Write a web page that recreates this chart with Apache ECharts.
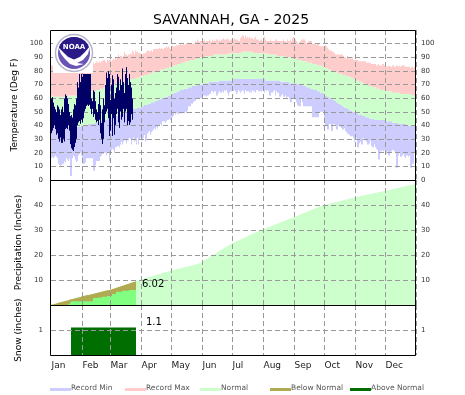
<!DOCTYPE html>
<html lang="en">
<head>
    <meta charset="UTF-8">
    <title>SAVANNAH, GA - 2025</title>
    <script src="https://cdnjs.cloudflare.com/ajax/libs/echarts/6.0.0/echarts.min.js"></script>
    <style>
        html, body {margin: 0; padding: 0; background: #fff;}
    </style>
</head>
<body>
<div id="chart" style="width: 465px;height:395px;"></div>
<script type="text/javascript">
    var months = ['Jan', 'Feb', 'Mar', 'Apr', 'May', 'Jun', 'Jul', 'Aug', 'Sep', 'Oct', 'Nov', 'Dec'];
    var monthStarts = [0, 31, 59, 90, 120, 151, 181, 212, 243, 273, 304, 334];

    // daily climate values, deg F
    var recordMin = [
        16,17,16,17,18,17,16,12,11,10, 11,12,12,14,13,16,15,14,16,3,
        3,16,18,17,15,13,14,18,19,20, 18,12,12,12,13,16,16,16,16,16,
        16,16,7,7,11,14,14,14,14,17, 18,19,19,20,20,18,20,20,14,22,
        22,23,22,20,24,24,25,25,24,26, 28,26,28,30,29,27,29,29,31,30,
        26,30,31,28,29,26,31,26,30,31, 30,29,31,33,28,29,34,35,36,33,
        35,36,37,38,37,39,38,40,40,41, 40,43,43,43,42,43,44,44,45,44,
        44,46,47,49,48,49,49,48,49,49, 49,49,50,49,50,49,51,54,54,54,
        56,56,57,58,58,60,60,59,60,60, 60,61,62,62,62,61,62,62,63,63,
        65,65,64,65,65,62,62,64,65,64, 64,65,64,66,65,66,64,62,64,65,
        65,66,65,66,65,63,64,66,65,64, 65,66,65,63,66,65,65,65,64,65,
        64,66,65,65,64,66,66,65,65,65, 65,66,65,64,66,65,66,65,62,62,
        64,64,65,66,62,65,64,64,61,61, 62,63,61,61,62,60,61,61,59,57,
        57,60,60,59,59,57,55,54,54,54, 60,57,54,54,54,54,54,54,54,54,
        54,46,46,46,46,46,46,46,50,50, 50,50,50,43,40,40,37,37,41,41,
        36,36,41,41,40,37,37,40,40,39, 38,37,37,38,36,35,34,34,33,32,
        32,32,31,28,30,31,24,24,27,28, 26,26,31,30,29,28,26,26,27,29,
        25,24,24,26,24,23,22,15,15,21, 21,22,21,22,20,19,21,18,18,20,
        21,22,22,21,20,9,9,18,20,17, 17,18,19,17,16,18,18,17,18,9,
        9,12,12,20,21
    ];
    var recordMax = [
        84,84,83,81,80,82,83,80,80,81, 82,83,83,82,80,81,83,84,84,83,
        82,81,83,83,84,84,83,84,84,85, 85,85,85,85,84,84,84,84,85,85,
        85,85,86,85,86,87,86,86,87,86, 87,87,88,88,87,86,88,87,88,90,
        87,88,89,88,90,89,90,92,90,91, 91,90,91,94,92,92,91,92,92,93,
        92,95,94,92,95,94,94,93,93,93, 92,92,93,93,93,94,95,95,94,95,
        95,94,96,96,96,96,96,96,97,96, 97,96,96,97,97,98,97,98,97,96,
        97,98,98,98,98,99,98,99,99,100, 99,99,100,99,100,100,100,100,100,100,
        100,100,100,100,102,101,103,102,101,102, 102,101,102,103,101,102,102,102,103,102,
        101,103,102,103,102,103,103,102,103,102, 103,103,104,103,103,103,104,103,102,103,
        103,103,103,104,103,103,103,102,102,104, 105,106,106,104,106,104,105,104,105,104,
        104,104,103,104,105,103,103,103,102,103, 103,102,102,105,103,102,102,102,102,103,
        102,102,102,102,103,103,102,102,102,102, 102,102,103,102,102,101,103,102,102,103,
        102,104,105,103,103,102,101,100,101,102, 103,103,103,103,102,100,100,102,102,102,
        102,100,100,100,100,99,100,100,98,98, 98,98,98,98,99,98,97,96,95,95,
        95,94,94,93,92,92,92,92,92,92, 92,92,91,90,90,89,91,90,89,90,
        89,90,88,88,88,88,88,87,87,87, 87,87,87,87,87,86,86,86,86,86,
        85,85,85,85,85,84,84,85,84,84, 84,85,85,84,83,83,83,84,84,83,
        83,84,84,83,83,84,84,83,84,83, 84,84,84,84,83,83,83,83,83,82,
        83,83,82,83,84
    ];
    var normalHigh = [
        62,62,61,61,61,61,61,61,61,61, 61,61,61,61,61,61,61,62,62,62,
        62,62,62,62,62,62,62,62,63,63, 63,63,63,63,64,64,64,64,64,64,
        65,65,65,65,65,66,66,66,66,67, 67,67,67,68,68,68,68,69,69,69,
        69,70,70,70,70,71,71,71,71,71, 72,72,72,72,72,73,73,73,73,74,
        74,74,74,74,75,75,75,75,75,76, 76,76,76,77,77,77,77,78,78,78,
        78,79,79,79,79,80,80,80,80,81, 81,81,81,81,82,82,82,82,83,83,
        83,83,84,84,84,84,85,85,85,85, 86,86,86,86,87,87,87,87,87,88,
        88,88,88,88,89,89,89,89,90,90, 90,90,90,90,91,91,91,91,91,91,
        91,91,92,92,92,92,92,92,92,92, 92,92,92,92,92,92,92,93,93,93,
        93,93,93,93,93,93,93,93,93,93, 94,94,94,94,94,94,94,94,94,94,
        94,94,93,93,93,93,93,93,93,93, 93,93,93,93,93,93,93,92,92,92,
        92,92,92,92,92,92,91,91,91,91, 91,91,91,91,90,90,90,90,90,90,
        90,89,89,89,89,89,88,88,88,88, 88,87,87,87,87,87,86,86,86,86,
        86,85,85,85,85,85,84,84,84,84, 84,83,83,83,82,82,82,81,81,81,
        80,80,80,79,79,79,79,78,78,78, 78,77,77,77,77,76,76,76,76,75,
        75,75,74,74,74,73,73,73,72,72, 72,71,71,71,70,70,70,69,69,69,
        69,68,68,68,68,67,67,67,67,66, 66,66,66,66,65,65,65,65,65,65,
        65,64,64,64,64,64,64,64,64,63, 63,63,63,63,63,63,63,63,63,63,
        63,62,62,62,62
    ];
    var normalLow = [
        41,41,41,41,40,40,40,40,40,40, 40,40,40,40,40,40,39,39,39,39,
        39,39,39,39,39,39,39,39,39,39, 40,40,40,40,40,40,40,41,41,41,
        41,41,41,41,42,42,42,42,43,43, 43,43,44,44,44,44,45,45,45,45,
        46,46,46,46,47,47,47,48,48,48, 48,49,49,49,50,50,50,50,51,51,
        51,51,52,52,52,52,53,53,53,53, 54,54,54,55,55,55,55,56,56,56,
        57,57,57,57,58,58,58,59,59,59, 60,60,60,60,61,61,61,62,62,62,
        63,63,63,64,64,64,65,65,65,66, 66,66,66,67,67,67,67,68,68,68,
        68,69,69,69,69,69,70,70,70,70, 70,70,71,71,71,71,71,71,72,72,
        72,72,72,72,72,72,72,72,73,73, 73,73,73,73,73,73,73,73,73,73,
        73,74,74,74,74,74,74,74,74,74, 74,74,74,74,74,74,74,74,74,74,
        74,74,74,74,74,74,74,74,74,74, 74,74,74,74,73,73,73,73,73,73,
        73,73,73,73,73,73,73,73,73,72, 72,72,72,72,72,72,72,72,71,71,
        71,71,71,71,71,71,71,70,70,70, 70,70,69,69,69,68,68,68,68,67,
        67,67,66,66,66,66,65,65,65,64, 64,64,63,63,62,62,61,61,60,60,
        60,59,59,58,58,57,57,56,56,55, 55,54,54,53,53,53,52,52,51,51,
        51,50,50,50,49,49,49,48,48,48, 48,47,47,47,46,46,46,46,45,45,
        45,45,45,44,44,44,44,44,44,44, 44,44,44,44,43,43,43,43,43,43,
        43,42,42,42,42,42,42,41,41,41, 41,41,41,41,41,40,40,40,40,40,
        40,40,40,40,40
    ];

    // observed daily high and low, Jan 1 to Mar 23
    var observedHigh = [
        60,61,57,54,52,50,55,54,52,48, 52,54,50,60,63,62,60,56,50,47,
        48,46,52,56,55,60,72,68,78,72, 78,76,78,78,78,78,78,78,78,78,
        60,58,66,65,58,52,50,56,65,55, 42,52,60,55,70,79,75,80,78,59,
        70,77,74,60,64,68,78,76,66,74, 70,82,72,64,78,83,75,70,78,72,
        68,60
    ];
    var observedLow = [
        34,36,38,40,37,33,34,30,28,31, 27,27,30,28,37,38,37,40,36,26,
        23,22,21,24,27,30,40,42,43,41, 44,42,45,50,52,54,55,54,55,52,
        48,52,46,48,44,42,43,40,44,34, 30,26,30,42,48,50,52,45,32,36,
        48,32,45,33,40,48,52,42,38,50, 44,46,52,42,50,52,40,43,40,42,
        48,44
    ];

    // cumulative precipitation, inches
    var precipNormal = [
        0.1,0.2,0.3,0.4,0.5,0.6,0.8,0.9,1.0,1.1, 1.2,1.3,1.4,1.5,1.6,1.7,1.8,1.9,2.1,2.2,
        2.3,2.4,2.5,2.6,2.7,2.8,2.9,3.0,3.1,3.2, 3.4,3.5,3.6,3.7,3.8,3.9,4.0,4.0,4.1,4.2,
        4.3,4.4,4.5,4.6,4.7,4.8,4.9,5.0,5.1,5.2, 5.3,5.4,5.5,5.6,5.7,5.8,5.9,5.9,6.0,6.1,
        6.2,6.4,6.5,6.6,6.8,6.9,7.0,7.2,7.3,7.4, 7.6,7.7,7.8,8.0,8.1,8.2,8.4,8.5,8.6,8.8,
        8.9,9.0,9.2,9.3,9.4,9.6,9.7,9.8,10.0,10.1, 10.2,10.4,10.5,10.6,10.7,10.8,11.0,11.1,11.2,11.3,
        11.4,11.6,11.7,11.8,11.9,12.0,12.2,12.3,12.4,12.5, 12.6,12.8,12.9,13.0,13.1,13.2,13.4,13.5,13.6,13.7,
        13.8,13.9,14.0,14.1,14.2,14.3,14.4,14.5,14.6,14.7, 14.8,14.9,15.0,15.1,15.2,15.3,15.4,15.5,15.6,15.7,
        15.8,15.9,16.0,16.1,16.2,16.3,16.4,16.5,16.7,16.9, 17.1,17.4,17.6,17.9,18.1,18.4,18.6,18.9,19.1,19.4,
        19.6,19.9,20.1,20.4,20.6,20.9,21.1,21.4,21.6,21.9, 22.1,22.4,22.6,22.9,23.1,23.4,23.6,23.8,24.1,24.3,
        24.5,24.7,24.9,25.1,25.3,25.4,25.6,25.8,26.0,26.2, 26.4,26.6,26.7,26.9,27.1,27.3,27.5,27.7,27.9,28.0,
        28.2,28.4,28.6,28.8,29.0,29.2,29.3,29.5,29.7,29.9, 30.0,30.2,30.3,30.5,30.7,30.8,31.0,31.1,31.3,31.4,
        31.6,31.8,31.9,32.1,32.2,32.4,32.5,32.7,32.9,33.0, 33.2,33.3,33.5,33.6,33.8,34.0,34.1,34.3,34.4,34.6,
        34.7,34.9,35.0,35.2,35.4,35.5,35.7,35.9,36.0,36.2, 36.4,36.5,36.7,36.9,37.0,37.2,37.4,37.5,37.7,37.9,
        38.0,38.2,38.4,38.5,38.7,38.9,39.0,39.2,39.4,39.5, 39.7,39.8,39.9,40.0,40.1,40.2,40.3,40.4,40.5,40.6,
        40.7,40.8,40.9,41.0,41.1,41.2,41.3,41.4,41.5,41.6, 41.7,41.8,41.9,42.0,42.1,42.2,42.3,42.4,42.5,42.6,
        42.7,42.8,42.9,43.0,43.1,43.2,43.3,43.3,43.4,43.5, 43.6,43.7,43.8,43.9,44.0,44.0,44.1,44.2,44.3,44.4,
        44.5,44.6,44.7,44.7,44.8,44.9,45.0,45.1,45.2,45.3, 45.3,45.4,45.5,45.6,45.7,45.8,45.9,46.0,46.0,46.1,
        46.2,46.3,46.4,46.5,46.6,46.7,46.8,46.9,46.9,47.0, 47.1,47.2,47.3,47.4,47.5,47.6,47.7,47.7,47.8,47.9,
        48.0,48.1,48.2,48.3,48.4
    ];
    var precipObserved = [
        0,0,0,0,0,0,0,0,0,0, 0,0,0,0,0,0,0,0.2,0.5,1.0,
        1.4,1.5,1.5,1.5,1.5,1.5,1.5,1.5,1.5,1.5, 1.5,1.5,1.5,1.5,1.5,1.5,1.5,1.5,1.5,1.5,
        1.5,1.5,2.8,2.8,2.8,2.8,2.8,3.0,3.0,3.0, 3.0,3.3,3.3,3.3,3.3,3.3,3.6,3.6,3.6,3.6,
        3.6,4.4,4.4,4.4,4.4,5.3,5.3,5.3,5.3,5.3, 5.3,5.7,5.7,5.7,5.7,5.7,5.7,5.7,6.02,6.02,
        6.02,6.02,6.02,6.02,6.02
    ];
    var snowfall = [
        0,0,0,0,0,0,0,0,0,0, 0,0,0,0,0,0,0,0,0,0,
        1.1,1.1,1.1,1.1,1.1,1.1,1.1,1.1,1.1,1.1, 1.1,1.1,1.1,1.1,1.1,1.1,1.1,1.1,1.1,1.1,
        1.1,1.1,1.1,1.1,1.1,1.1,1.1,1.1,1.1,1.1, 1.1,1.1,1.1,1.1,1.1,1.1,1.1,1.1,1.1,1.1,
        1.1,1.1,1.1,1.1,1.1,1.1,1.1,1.1,1.1,1.1, 1.1,1.1,1.1,1.1,1.1,1.1,1.1,1.1,1.1,1.1,
        1.1,1.1,1.1,1.1,1.1
    ];

    var tempTicks = [0, 10, 20, 30, 40, 50, 60, 70, 80, 90, 100];
    var precipTicks = [10, 20, 30, 40];
    var snowTicks = [1];
    var precipTotal = '6.02';
    var snowTotal = '1.1';

    var legendNames = ['Record Min', 'Record Max', 'Normal', 'Below Normal', 'Above Normal'];
    var legendColors = ['#ccccff', '#ffcccc', '#ccffcc', '#b0aa50', '#006e00'];

    var days = recordMin.map(function (v, i) { return i; });

    function diff(a, b) {
        return a.map(function (v, i) { return v - b[i]; });
    }

    var fontName = 'DejaVu Sans';
    var grids = [
        {left: 51, top: 30, width: 365, height: 150},
        {left: 51, top: 180, width: 365, height: 125},
        {left: 51, top: 305, width: 365, height: 50}
    ];
    var gridLine = {color: '#999', width: 1, type: [5, 3]};

    function makeXAxis(idx, showLabels) {
        return {
            type: 'category',
            gridIndex: idx,
            data: days,
            z: 3,
            axisLine: {show: false},
            axisTick: {show: false},
            axisLabel: {
                show: showLabels,
                interval: function (i) { return monthStarts.indexOf(i) >= 0; },
                formatter: function (v) { return months[monthStarts.indexOf(+v)]; },
                align: 'left',
                margin: 6,
                color: '#222',
                fontFamily: fontName,
                fontSize: 9
            },
            splitLine: {
                show: true,
                interval: function (i) { return i > 0 && monthStarts.indexOf(i) >= 0; },
                lineStyle: gridLine
            }
        };
    }

    function makeYAxis(idx, max, ticks, step, name, right) {
        return {
            type: 'value',
            gridIndex: idx,
            position: right ? 'right' : 'left',
            min: 0,
            max: max,
            interval: step,
            z: 3,
            name: right ? '' : name,
            nameLocation: 'middle',
            nameGap: 28,
            nameTextStyle: {color: '#000', fontFamily: fontName, fontSize: 9},
            axisLine: {show: false},
            axisTick: {show: false},
            axisLabel: {
                margin: right ? 5 : 8,
                color: '#333',
                fontFamily: fontName,
                fontSize: 7,
                formatter: function (v) { return ticks.indexOf(v) >= 0 ? v : ''; }
            },
            splitLine: right ? {show: false} : {
                show: true,
                lineStyle: gridLine
            }
        };
    }

    function bar(name, idx, yIdx, data, color, stack, z) {
        return {
            name: name,
            type: 'bar',
            xAxisIndex: idx,
            yAxisIndex: yIdx,
            data: data,
            stack: stack,
            barWidth: '100%',
            barGap: '-100%',
            z: z || 2,
            silent: true,
            itemStyle: {color: color}
        };
    }

    // the observed bars sit a little wider than one day, as in the original
    var observedBars = bar('Observed', 0, 0, diff(observedHigh, observedLow), '#000066', 'observed', 4);
    observedBars.itemStyle.borderColor = '#000066';
    observedBars.itemStyle.borderWidth = 1;

    var series = [
        bar('base', 0, 0, recordMin, 'rgba(0,0,0,0)', 'climate'),
        bar('Record Min', 0, 0, diff(normalLow, recordMin), legendColors[0], 'climate'),
        bar('Normal', 0, 0, diff(normalHigh, normalLow), legendColors[2], 'climate'),
        bar('Record Max', 0, 0, diff(recordMax, normalHigh), legendColors[1], 'climate'),
        bar('obsBase', 0, 0, observedLow, 'rgba(0,0,0,0)', 'observed', 4),
        observedBars,

        bar('Normal', 1, 2, precipNormal, legendColors[2]),
        bar('Below Normal', 1, 2, precipNormal.slice(0, precipObserved.length), legendColors[3]),
        bar('Observed Precip', 1, 2, precipObserved, '#80ff80'),

        bar('Above Normal', 2, 4, snowfall, legendColors[4])
    ];

    // hand drawn page furniture: frame, total notes, NOAA badge, legend row
    var graphics = [
        {type: 'rect', z: 20, shape: {x: 50.5, y: 30.5, width: 365, height: 325},
            style: {fill: 'none', stroke: '#000', lineWidth: 1}},
        {type: 'line', z: 20, shape: {x1: 50.5, y1: 180.5, x2: 415.5, y2: 180.5},
            style: {stroke: '#000', lineWidth: 1}},
        {type: 'line', z: 20, shape: {x1: 50.5, y1: 305.5, x2: 415.5, y2: 305.5},
            style: {stroke: '#000', lineWidth: 1}},
        {type: 'text', z: 20, x: 142, y: 279, style: {text: precipTotal, fill: '#000', font: '10px "DejaVu Sans"'}},
        {type: 'text', z: 20, x: 146, y: 317, style: {text: snowTotal, fill: '#000', font: '10px "DejaVu Sans"'}},

        {type: 'rect', z: 21, shape: {x: 53, y: 31, width: 40, height: 42}, style: {fill: '#fff'}},
        {type: 'circle', z: 22, shape: {cx: 74, cy: 53, r: 18.5},
            style: {fill: '#fff', stroke: '#b4b4cc', lineWidth: 1.5}},
        {type: 'circle', z: 22, shape: {cx: 74, cy: 53, r: 16}, style: {fill: '#6a55b5'}},
        {type: 'polygon', z: 23, shape: {points: [[59, 48], [60, 44.5], [63, 41], [67, 38.5], [71, 37.3], [74, 37], [77, 37.3], [81, 38.5], [85, 41], [88, 44.5], [89, 48], [84, 53], [79, 57], [74, 60], [69, 57], [64, 53]]},
            style: {fill: '#2a1a88'}},
        {type: 'polygon', z: 24, shape: {points: [[58, 47], [63, 52], [68, 57], [74, 59.5], [80, 57], [85, 52], [90, 46], [88, 54], [83, 60], [77, 63], [84, 64], [76, 66], [70, 64], [65, 59], [61, 54]]},
            style: {fill: '#fff'}},
        {type: 'text', z: 25, x: 74, y: 47, style: {text: 'NOAA', fill: '#fff', font: 'bold 7px "DejaVu Sans"', align: 'center', verticalAlign: 'middle'}}
    ];
    var legendX = [50, 125, 200, 270, 350];
    legendNames.forEach(function (name, i) {
        graphics.push({type: 'rect', z: 20, shape: {x: legendX[i], y: 388, width: 21, height: 3},
            style: {fill: legendColors[i]}});
        graphics.push({type: 'text', z: 20, x: legendX[i] + 21, y: 384,
            style: {text: name, fill: '#555', font: '7.5px "DejaVu Sans"'}});
    });

    var chart = echarts.init(document.getElementById('chart'), null, {renderer: 'canvas'});
    chart.setOption({
        animation: false,
        title: {
            text: 'SAVANNAH, GA - 2025',
            left: 153,
            top: 13,
            padding: 0,
            textStyle: {color: '#000', fontFamily: fontName, fontWeight: 'normal', fontSize: 14}
        },
        grid: grids,
        xAxis: [makeXAxis(0, false), makeXAxis(1, false), makeXAxis(2, true)],
        yAxis: [
            makeYAxis(0, 110, tempTicks, 10, 'Temperature (Deg F)', false),
            makeYAxis(0, 110, tempTicks, 10, '', true),
            makeYAxis(1, 50, precipTicks, 10, 'Precipitation (Inches)', false),
            makeYAxis(1, 50, precipTicks, 10, '', true),
            makeYAxis(2, 2, snowTicks, 1, 'Snow (inches)', false),
            makeYAxis(2, 2, snowTicks, 1, '', true)
        ],
        series: series,
        graphic: graphics
    });
</script>
</body>
</html>
